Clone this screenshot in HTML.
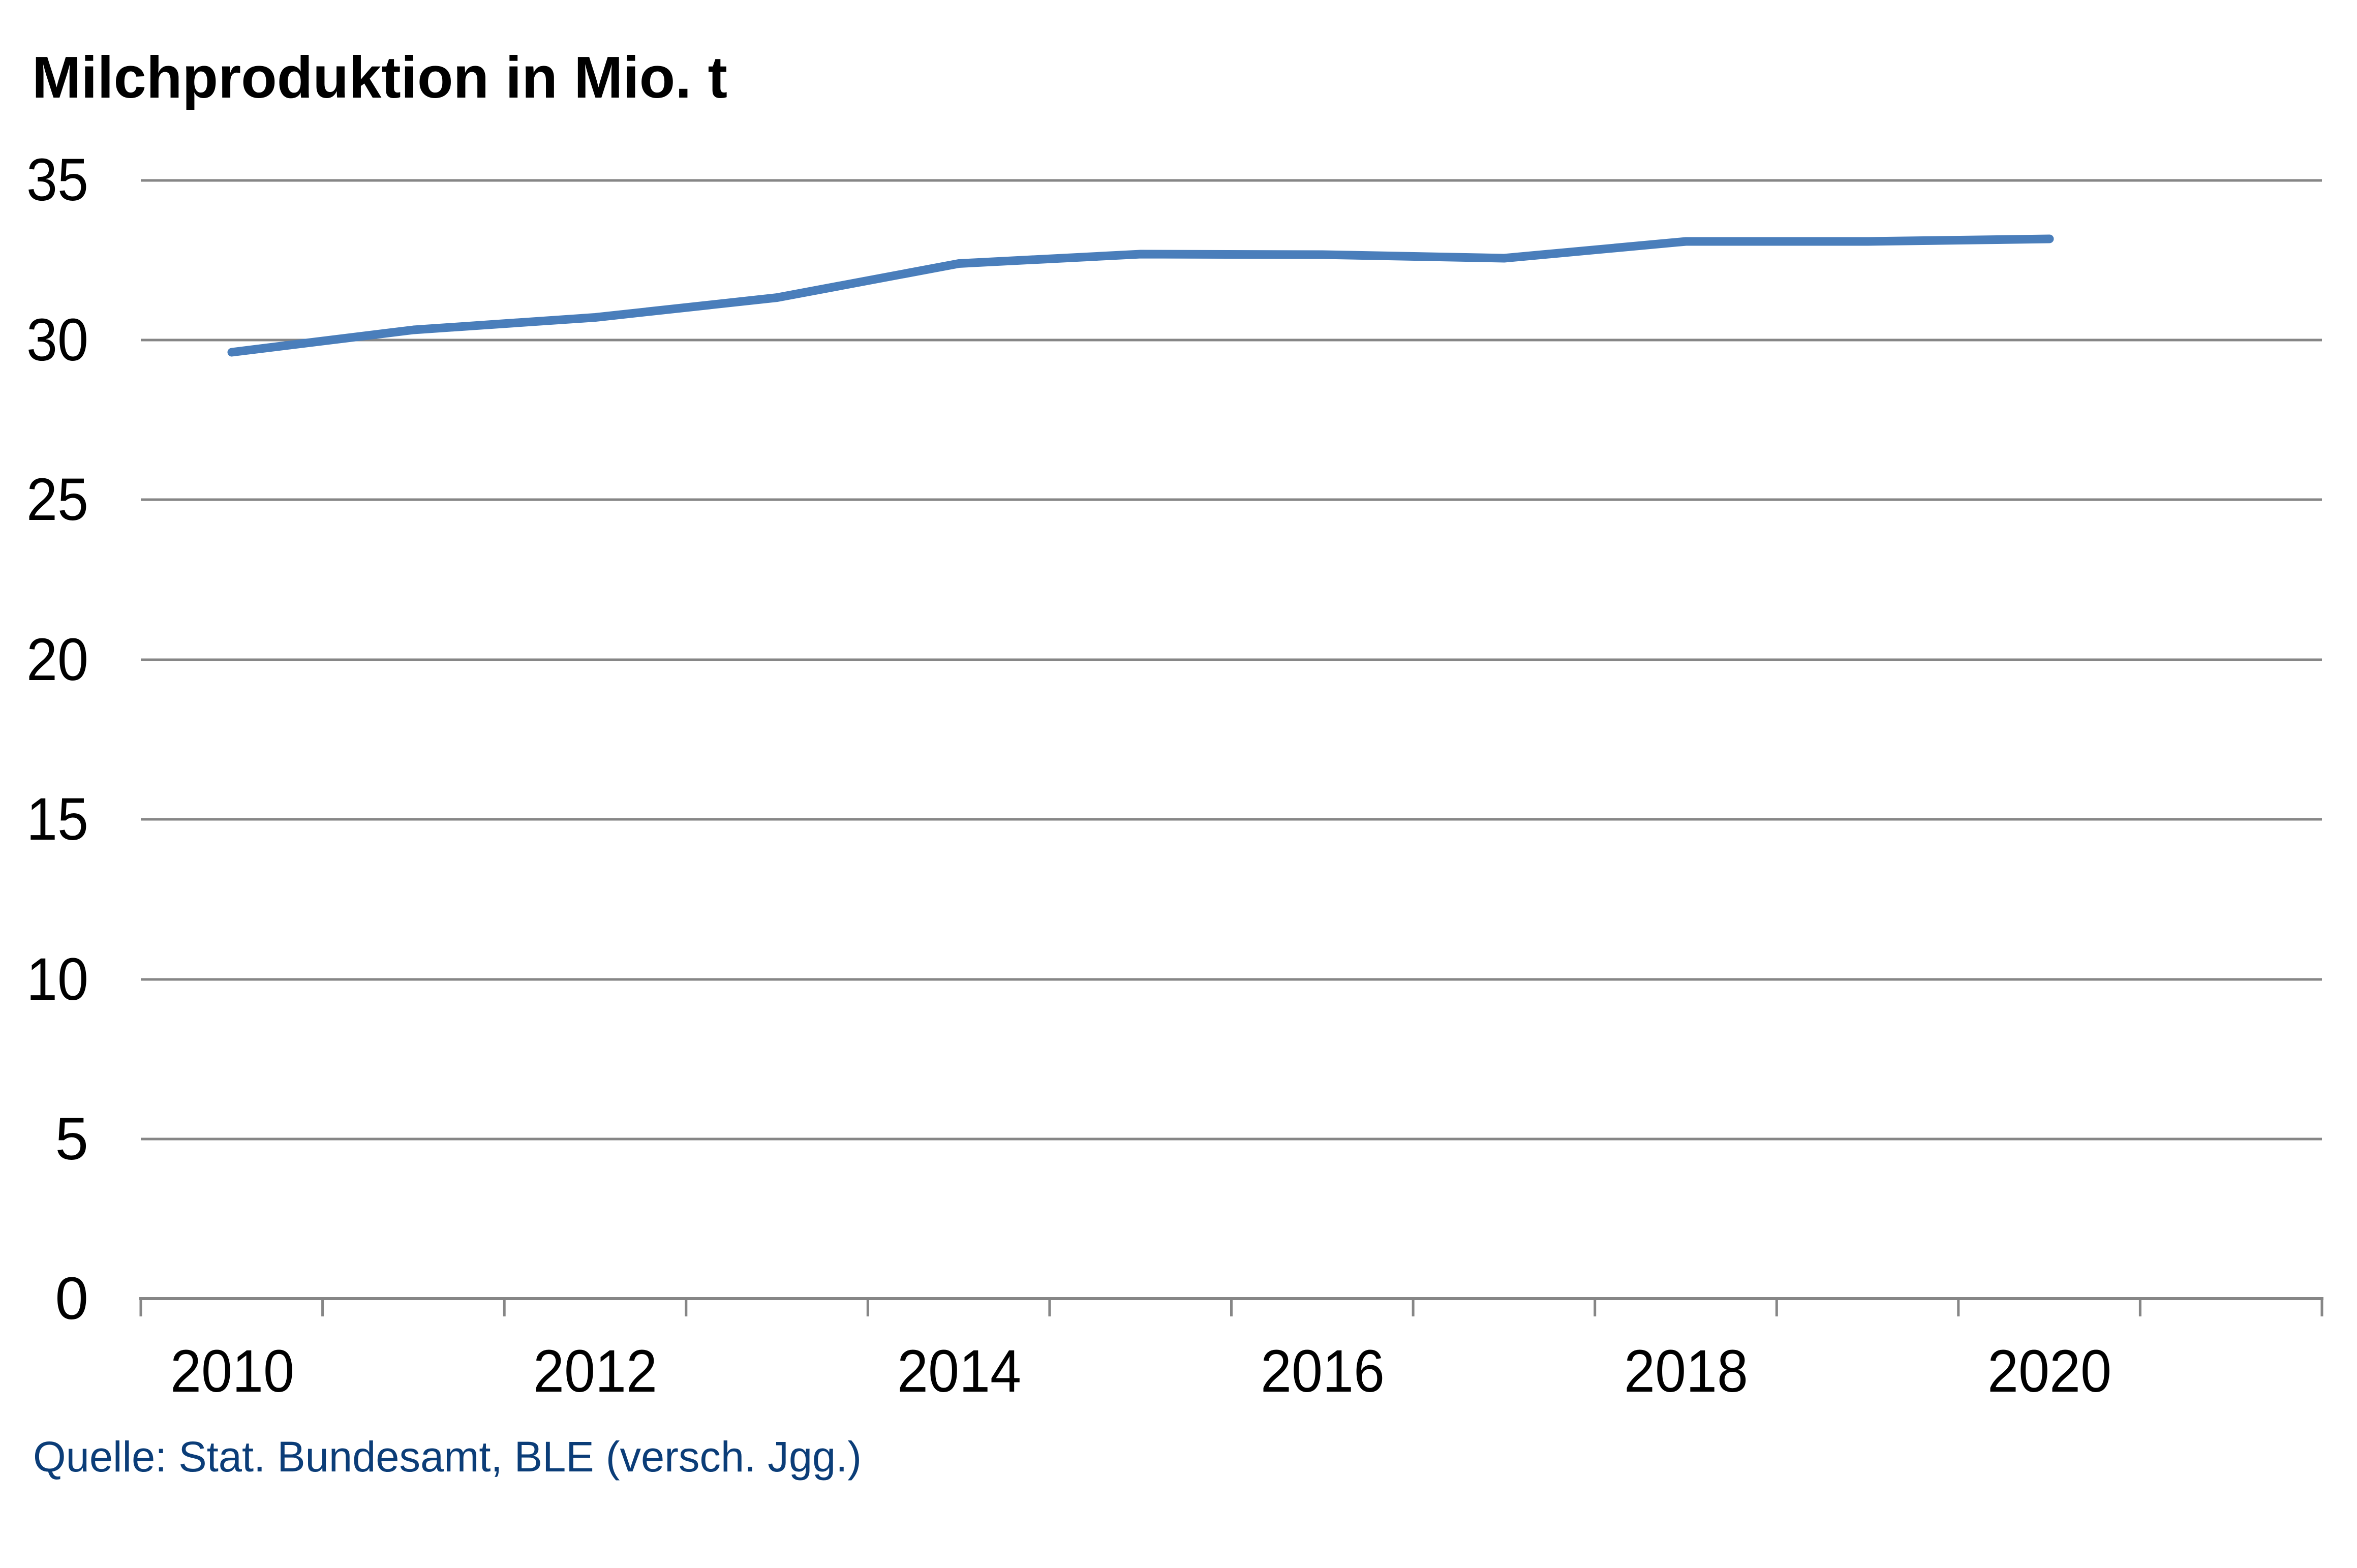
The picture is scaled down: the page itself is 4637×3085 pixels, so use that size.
<!DOCTYPE html>
<html>
<head>
<meta charset="utf-8">
<style>
  html, body { margin: 0; padding: 0; background: #ffffff; }
  svg { display: block; }
  text { font-family: "Liberation Sans", "DejaVu Sans", sans-serif; }
</style>
</head>
<body>
<svg width="4637" height="3085" viewBox="0 0 4637 3085" xmlns="http://www.w3.org/2000/svg">
  <rect x="0" y="0" width="4637" height="3085" fill="#ffffff"/>

  <!-- Title -->
  <text x="63" y="192" font-size="116" font-weight="bold" fill="#000000" textLength="1368" lengthAdjust="spacingAndGlyphs">Milchproduktion in Mio. t</text>

  <!-- Gridlines -->
  <g stroke="#868686" stroke-width="5">
    <line x1="277" y1="355" x2="4568" y2="355"/>
    <line x1="277" y1="669" x2="4568" y2="669"/>
    <line x1="277" y1="983" x2="4568" y2="983"/>
    <line x1="277" y1="1298" x2="4568" y2="1298"/>
    <line x1="277" y1="1612" x2="4568" y2="1612"/>
    <line x1="277" y1="1927" x2="4568" y2="1927"/>
    <line x1="277" y1="2241" x2="4568" y2="2241"/>
  </g>

  <!-- X axis + ticks -->
  <g stroke="#868686" stroke-width="6">
    <line x1="274" y1="2555" x2="4571" y2="2555"/>
  </g>
  <g stroke="#868686" stroke-width="5">
    <line x1="277" y1="2553" x2="277" y2="2590"/>
    <line x1="634.6" y1="2553" x2="634.6" y2="2590"/>
    <line x1="992.2" y1="2553" x2="992.2" y2="2590"/>
    <line x1="1349.8" y1="2553" x2="1349.8" y2="2590"/>
    <line x1="1707.3" y1="2553" x2="1707.3" y2="2590"/>
    <line x1="2064.9" y1="2553" x2="2064.9" y2="2590"/>
    <line x1="2422.5" y1="2553" x2="2422.5" y2="2590"/>
    <line x1="2780.1" y1="2553" x2="2780.1" y2="2590"/>
    <line x1="3137.7" y1="2553" x2="3137.7" y2="2590"/>
    <line x1="3495.3" y1="2553" x2="3495.3" y2="2590"/>
    <line x1="3852.8" y1="2553" x2="3852.8" y2="2590"/>
    <line x1="4210.4" y1="2553" x2="4210.4" y2="2590"/>
    <line x1="4568" y1="2553" x2="4568" y2="2590"/>
  </g>

  <!-- Y axis labels -->
  <g font-size="118" fill="#000000">
    <text x="52" y="394" textLength="122" lengthAdjust="spacingAndGlyphs">35</text>
    <text x="52" y="709" textLength="122" lengthAdjust="spacingAndGlyphs">30</text>
    <text x="52" y="1023" textLength="122" lengthAdjust="spacingAndGlyphs">25</text>
    <text x="52" y="1338" textLength="122" lengthAdjust="spacingAndGlyphs">20</text>
    <text x="52" y="1652" textLength="122" lengthAdjust="spacingAndGlyphs">15</text>
    <text x="52" y="1967" textLength="122" lengthAdjust="spacingAndGlyphs">10</text>
  </g>
  <g font-size="118" fill="#000000" text-anchor="end">
    <text x="174" y="2281">5</text>
    <text x="174" y="2595">0</text>
  </g>

  <!-- X axis labels -->
  <g font-size="118" fill="#000000" text-anchor="middle">
    <text x="457" y="2738" textLength="244" lengthAdjust="spacingAndGlyphs">2010</text>
    <text x="1171" y="2738" textLength="244" lengthAdjust="spacingAndGlyphs">2012</text>
    <text x="1887" y="2738" textLength="244" lengthAdjust="spacingAndGlyphs">2014</text>
    <text x="2602" y="2738" textLength="244" lengthAdjust="spacingAndGlyphs">2016</text>
    <text x="3317" y="2738" textLength="244" lengthAdjust="spacingAndGlyphs">2018</text>
    <text x="4032" y="2738" textLength="244" lengthAdjust="spacingAndGlyphs">2020</text>
  </g>

  <!-- Data line -->
  <polyline fill="none" stroke="#4a7ebb" stroke-width="17" stroke-linecap="round" stroke-linejoin="round"
    points="456,693 813.6,649 1171.2,624.5 1528.8,585.5 1886.4,518.5 2244,500 2601.6,501 2959.2,508 3316.8,475 3674.4,475 4032,470"/>

  <!-- Source -->
  <text x="65" y="2895" font-size="84" fill="#0b3d78" textLength="1630" lengthAdjust="spacingAndGlyphs">Quelle: Stat. Bundesamt, BLE (versch. Jgg.)</text>
</svg>
</body>
</html>
